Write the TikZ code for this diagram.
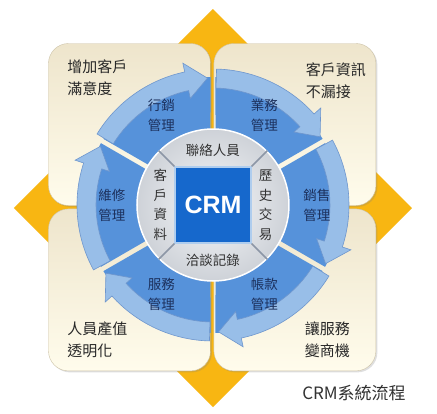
\documentclass[tikz,border=0pt]{standalone}
\usepackage{fontspec}
\usepackage{tikz}
\newfontfamily\cjk{Noto Sans CJK TC}
\newfontfamily\crmfont{Liberation Sans}
\definecolor{diamondyellow}{RGB}{248,182,18}
\definecolor{cardtop}{RGB}{238,229,204}
\definecolor{cardbottom}{RGB}{255,252,236}
\definecolor{cardline}{RGB}{205,195,168}
\definecolor{segblue}{RGB}{86,146,218}
\definecolor{bandblue}{RGB}{152,190,232}
\definecolor{bandline}{RGB}{110,150,205}
\definecolor{greyin}{RGB}{246,247,249}
\definecolor{greyout}{RGB}{206,210,216}
\definecolor{dividerline}{RGB}{140,150,166}
\definecolor{crmblue}{RGB}{22,104,204}
\definecolor{crmline}{RGB}{175,205,238}
\definecolor{goaltext}{RGB}{40,40,40}
\definecolor{ringtext}{RGB}{28,48,92}
\definecolor{keytext}{RGB}{50,50,50}
\tikzstyle{card}=[rectangle,rounded corners=20pt,minimum size=162pt,draw=cardline,
top color=cardtop,bottom color=cardbottom,drop shadow={opacity=0.25,shadow xshift=1.5pt,shadow yshift=-1.5pt}]
\tikzstyle{goal}=[inner sep=0pt,align=left,text=goaltext,font=\cjk\fontsize{15}{22}\selectfont]
\tikzstyle{ringlabel}=[inner sep=0pt,align=center,text=ringtext,font=\cjk\fontsize{13.5}{20}\selectfont]
\tikzstyle{keylabel}=[inner sep=0pt,align=center,text=keytext,font=\cjk\fontsize{13.5}{19.5}\selectfont]
\tikzstyle{segment}=[fill=segblue]
\tikzstyle{band}=[fill=bandblue,draw=bandline,line width=0.6pt]
\tikzstyle{hubdisk}=[circle,minimum size=152pt,inner sep=0pt,inner color=greyin,outer color=greyout,draw=white,line width=1.5pt]
\tikzstyle{divider}=[draw=dividerline,line width=1.6pt]
\tikzstyle{crmbox}=[rectangle,minimum size=76pt,fill=crmblue,draw=crmline,line width=1.2pt,
text=white,font=\crmfont\bfseries\fontsize{25}{30}\selectfont]
\tikzstyle{caption}=[inner sep=0pt,text=keytext,font=\cjk\fontsize{17}{20}\selectfont]
\usetikzlibrary{positioning,shadows}

\begin{document}
\begin{tikzpicture}[x=1pt,y=1pt]
            \useasboundingbox (-213,-208) rectangle (224,205);
            \fill[white] (-213,-208) rectangle (224,205);

            % DIAMOND PART

            \fill[diamondyellow] (0,196) -- (199,-3) -- (0,-202) -- (-199,-3) -- cycle;

            % CARDS PART

            \node[card] (tl) at (-83.5,80.5) {};
            \node[card, right=3pt of tl] (tr) {};
            \node[card, below=3pt of tl] (bl) {};
            \node[card, right=3pt of bl] (br) {};

            \node[goal, below right=16pt and 19pt of tl.north west] (g1) {增加客戶\\滿意度};
            \node[goal, below left=19pt and 10pt of tr.north east] (g2) {客戶資訊\\不漏接};
            \node[goal, above right=13pt and 19pt of bl.south west] (g3) {人員產值\\透明化};
            \node[goal, above right=13pt and 91pt of br.south west] (g4) {讓服務\\變商機};

            % RING PART

            \fill[segment] (148.1:76pt) arc[start angle=148.1,end angle=91.9,radius=76pt] -- (91.1:128pt) arc[start angle=91.1,end angle=148.9,radius=128pt] -- cycle;
            \fill[segment] (88.1:76pt) arc[start angle=88.1,end angle=31.9,radius=76pt] -- (31.1:128pt) arc[start angle=31.1,end angle=88.9,radius=128pt] -- cycle;
            \fill[segment] (28.1:76pt) arc[start angle=28.1,end angle=-28.1,radius=76pt] -- (-28.9:128pt) arc[start angle=-28.9,end angle=28.9,radius=128pt] -- cycle;
            \fill[segment] (-31.9:76pt) arc[start angle=-31.9,end angle=-88.1,radius=76pt] -- (-88.9:128pt) arc[start angle=-88.9,end angle=-31.1,radius=128pt] -- cycle;
            \fill[segment] (-91.9:76pt) arc[start angle=-91.9,end angle=-148.1,radius=76pt] -- (-148.9:128pt) arc[start angle=-148.9,end angle=-91.1,radius=128pt] -- cycle;
            \fill[segment] (208.1:76pt) arc[start angle=208.1,end angle=151.9,radius=76pt] -- (151.1:128pt) arc[start angle=151.1,end angle=208.9,radius=128pt] -- cycle;

            \filldraw[band] (148.5:117pt) arc[start angle=148.5,end angle=102,radius=117pt] -- (102:109pt) -- (92.5:127pt) -- (102:145pt) -- (102:136pt) arc[start angle=102,end angle=148.5,radius=136pt] -- cycle;
            \filldraw[band] (88.5:117pt) arc[start angle=88.5,end angle=42,radius=117pt] -- (42:109pt) -- (32.5:127pt) -- (42:145pt) -- (42:136pt) arc[start angle=42,end angle=88.5,radius=136pt] -- cycle;
            \filldraw[band] (28.5:117pt) arc[start angle=28.5,end angle=-18,radius=117pt] -- (-18:109pt) -- (-27.5:127pt) -- (-18:145pt) -- (-18:136pt) arc[start angle=-18,end angle=28.5,radius=136pt] -- cycle;
            \filldraw[band] (-31.5:117pt) arc[start angle=-31.5,end angle=-78,radius=117pt] -- (-78:109pt) -- (-87.5:127pt) -- (-78:145pt) -- (-78:136pt) arc[start angle=-78,end angle=-31.5,radius=136pt] -- cycle;
            \filldraw[band] (-91.5:117pt) arc[start angle=-91.5,end angle=-138,radius=117pt] -- (-138:109pt) -- (-147.5:127pt) -- (-138:145pt) -- (-138:136pt) arc[start angle=-138,end angle=-91.5,radius=136pt] -- cycle;
            \filldraw[band] (208.5:117pt) arc[start angle=208.5,end angle=162,radius=117pt] -- (162:109pt) -- (152.5:127pt) -- (162:145pt) -- (162:136pt) arc[start angle=162,end angle=208.5,radius=136pt] -- cycle;

            \node[ringlabel] (m1) at (120:103pt) {行銷\\管理};
            \node[ringlabel] (m2) at (60:103pt) {業務\\管理};
            \node[ringlabel] (m3) at (0:104pt) {銷售\\管理};
            \node[ringlabel] (m4) at (-60:103pt) {帳款\\管理};
            \node[ringlabel] (m5) at (-120:103pt) {服務\\管理};
            \node[ringlabel] (m6) at (180:101pt) {維修\\管理};

            % CENTER PART

            \node[hubdisk] (hub) at (0,0) {};
            \node[crmbox] (crm) at (hub) {CRM};

            \path[divider] (crm.north east) -- (hub.45);
            \path[divider] (crm.north west) -- (hub.135);
            \path[divider] (crm.south west) -- (hub.225);
            \path[divider] (crm.south east) -- (hub.315);

            \node[keylabel, above=10pt of crm] (k1) {聯絡人員};
            \node[keylabel, right=7pt of crm] (k2) {歷\\史\\交\\易};
            \node[keylabel, below=10pt of crm] (k3) {洽談記錄};
            \node[keylabel, left=7pt of crm] (k4) {客\\戶\\資\\料};

            % CAPTION

            \node[caption] (cap) at (141,-188) {CRM系統流程};

        \end{tikzpicture}
\end{document}
